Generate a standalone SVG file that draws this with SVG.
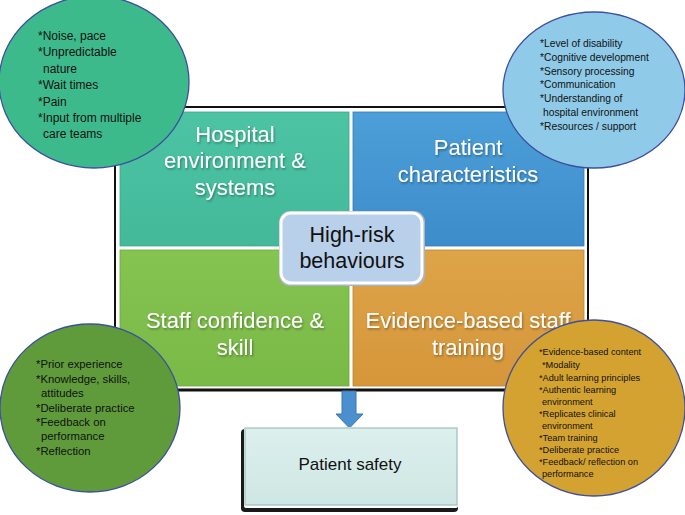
<svg xmlns="http://www.w3.org/2000/svg" width="685" height="515" viewBox="0 0 685 515">
<defs>
<linearGradient id="gTL" x1="0" y1="0" x2="0" y2="1"><stop offset="0" stop-color="#4cc4a4"/><stop offset="1" stop-color="#43b99a"/></linearGradient>
<linearGradient id="gTR" x1="0" y1="0" x2="0" y2="1"><stop offset="0" stop-color="#4c9fd8"/><stop offset="1" stop-color="#3d8ccb"/></linearGradient>
<linearGradient id="gBL" x1="0" y1="0" x2="0" y2="1"><stop offset="0" stop-color="#86c452"/><stop offset="1" stop-color="#79b946"/></linearGradient>
<linearGradient id="gBR" x1="0" y1="0" x2="0" y2="1"><stop offset="0" stop-color="#dea448"/><stop offset="1" stop-color="#d6963a"/></linearGradient>
<linearGradient id="gPS" x1="0" y1="0" x2="0" y2="1"><stop offset="0" stop-color="#dcf0ee"/><stop offset="1" stop-color="#cfe7e4"/></linearGradient>
<filter id="sh" x="-10%" y="-10%" width="120%" height="130%"><feDropShadow dx="1" dy="1.5" stdDeviation="0.8" flood-color="#000" flood-opacity="0.35"/></filter>
</defs>
<style>
.q{font-family:"Liberation Sans",Arial,sans-serif;font-size:22px;fill:#ffffff;text-anchor:middle}
.c{font-family:"Liberation Sans",Arial,sans-serif;font-size:21.5px;fill:#111;text-anchor:middle}
.circ{stroke:#3d4f9e;stroke-width:1.3}
.t1{font-family:"Liberation Sans",Arial,sans-serif;font-size:12px;fill:#111}
.t2{font-family:"Liberation Sans",Arial,sans-serif;font-size:10.3px;fill:#111}
.t3{font-family:"Liberation Sans",Arial,sans-serif;font-size:11.3px;fill:#111}
.t4{font-family:"Liberation Sans",Arial,sans-serif;font-size:9.2px;fill:#111}
.ps{font-family:"Liberation Sans",Arial,sans-serif;font-size:17px;fill:#111;text-anchor:middle}
</style>
<rect width="685" height="515" fill="#ffffff"/>
<g id="frame">
<rect x="115" y="107" width="473" height="283" fill="#ffffff" stroke="#111" stroke-width="2"/>
<line x1="115" y1="390" x2="588" y2="390" stroke="#111" stroke-width="3"/>
</g>
<g id="q-hospital">
<rect x="120" y="112" width="229" height="134" fill="url(#gTL)" stroke="#3aa78a" stroke-width="0.8"/>
<g filter="url(#sh)"><text class="q" x="235" y="142">Hospital</text><text class="q" x="235" y="168">environment &amp;</text><text class="q" x="235" y="195">systems</text></g>
</g>
<g id="q-patient">
<rect x="353" y="112" width="231" height="134" fill="url(#gTR)" stroke="#2f7db8" stroke-width="0.8"/>
<g filter="url(#sh)"><text class="q" x="468" y="155">Patient</text><text class="q" x="468" y="182">characteristics</text></g>
</g>
<g id="q-staff">
<rect x="120" y="250" width="229" height="136" fill="url(#gBL)" stroke="#6aa83a" stroke-width="0.8"/>
<g filter="url(#sh)"><text class="q" x="235" y="328">Staff confidence &amp;</text><text class="q" x="235" y="355">skill</text></g>
</g>
<g id="q-training">
<rect x="353" y="250" width="231" height="136" fill="url(#gBR)" stroke="#c0832c" stroke-width="0.8"/>
<g filter="url(#sh)"><text class="q" x="468" y="328">Evidence-based staff</text><text class="q" x="468" y="355">training</text></g>
</g>
<g id="center">
<rect x="279" y="211" width="146" height="75" rx="11" fill="#a9b4c2"/>
<rect x="281" y="213" width="141" height="70" rx="10" fill="#b8d0ea" stroke="#ffffff" stroke-width="3"/>
<text class="c" x="352" y="242">High-risk</text>
<text class="c" x="352" y="268">behaviours</text>
</g>
<g id="circle-hospital">
<ellipse class="circ" cx="94" cy="82" rx="95" ry="86" fill="#3dba8c"/>
<text class="t1" x="38" y="40">*Noise, pace</text>
<text class="t1" x="38" y="56">*Unpredictable</text>
<text class="t1" x="43" y="73">nature</text>
<text class="t1" x="38" y="89">*Wait times</text>
<text class="t1" x="38" y="106">*Pain</text>
<text class="t1" x="38" y="122">*Input from multiple</text>
<text class="t1" x="43" y="138">care teams</text>
</g>
<g id="circle-patient">
<ellipse class="circ" cx="594" cy="90" rx="91" ry="78" fill="#8fcbe9"/>
<text class="t2" x="540" y="47">*Level of disability</text>
<text class="t2" x="540" y="61">*Cognitive development</text>
<text class="t2" x="540" y="75">*Sensory processing</text>
<text class="t2" x="540" y="88">*Communication</text>
<text class="t2" x="540" y="102">*Understanding of</text>
<text class="t2" x="543" y="116">hospital environment</text>
<text class="t2" x="540" y="130">*Resources / support</text>
</g>
<g id="circle-staff">
<ellipse class="circ" cx="90" cy="408" rx="90" ry="84" fill="#5f9b3b"/>
<text class="t3" x="36" y="368">*Prior experience</text>
<text class="t3" x="36" y="383">*Knowledge, skills,</text>
<text class="t3" x="41" y="397">attitudes</text>
<text class="t3" x="36" y="412">*Deliberate practice</text>
<text class="t3" x="36" y="426">*Feedback on</text>
<text class="t3" x="41" y="440">performance</text>
<text class="t3" x="36" y="455">*Reflection</text>
</g>
<g id="circle-training">
<ellipse class="circ" cx="594" cy="408" rx="91" ry="88" fill="#d4a230"/>
<text class="t4" x="539" y="355">*Evidence-based content</text>
<text class="t4" x="542" y="368">*Modality</text>
<text class="t4" x="539" y="381">*Adult learning principles</text>
<text class="t4" x="539" y="393">*Authentic learning</text>
<text class="t4" x="542" y="405">environment</text>
<text class="t4" x="539" y="417">*Replicates clinical</text>
<text class="t4" x="542" y="429">environment</text>
<text class="t4" x="539" y="441">*Team training</text>
<text class="t4" x="539" y="453">*Deliberate practice</text>
<text class="t4" x="539" y="465">*Feedback/ reflection on</text>
<text class="t4" x="542" y="477">performance</text>
</g>
<g id="connectors">
<polygon points="342,391 356,391 356,414 363,414 349.5,428 336,414 342,414" fill="#4a90cf" stroke="#3776b0" stroke-width="1"/>
</g>
<g id="patient-safety">
<rect x="241" y="429" width="217" height="83" rx="4" fill="#1a1a1a"/>
<rect x="244" y="427" width="214" height="81" rx="2" fill="#ffffff"/>
<rect x="245" y="428" width="212" height="77" fill="url(#gPS)" stroke="#9fbfbc" stroke-width="1.2"/>
<text class="ps" x="350" y="470">Patient safety</text>
</g>
</svg>
